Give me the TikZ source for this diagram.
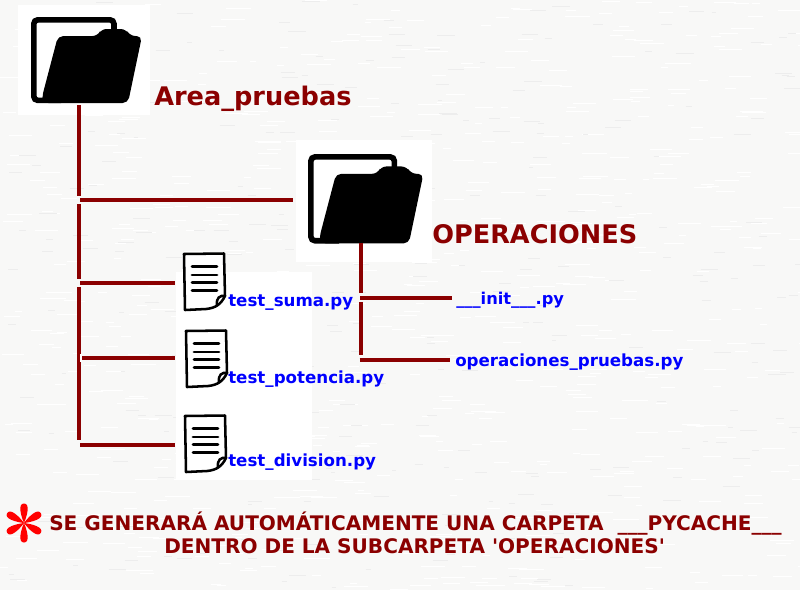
\documentclass[tikz,border=0pt]{standalone}
\usepackage{fontspec}
\setmainfont{DejaVu Sans}[Ligatures=TeXOff]
\definecolor{dred}{HTML}{8B0000}
\definecolor{paper}{HTML}{F8F8F7}
\tikzset{
  x=0.75pt,y=-0.75pt,
  branch/.style={draw=dred,line width=3pt},
  notch/.style={draw=white,line width=1.5pt},
  title/.style={text=dred,font=\bfseries\fontsize{19.2}{21}\selectfont,anchor=base west,inner sep=0pt},
  file/.style={text=blue,font=\bfseries\fontsize{12.5}{14}\selectfont,anchor=base west,inner sep=0pt},
  foot/.style={text=dred,font=\bfseries\fontsize{15.05}{17}\selectfont,anchor=base west,inner sep=0pt},
  pics/folder/.style={code={
    \draw[black,line width=4.2pt,rounded corners=3pt] (83,16) -- (83,2.8) -- (2.8,2.8) -- (2.8,83.4) -- (30,83.4);
    \fill[black,rounded corners=4pt] (27,19) -- (67,19) -- (70,12) -- (95,12) -- (99,19) -- (111,19) -- (97,86) -- (12,86) -- (11,80) -- cycle;
  }},
  pics/docu/.style={code={
    \draw[black,line width=1.9pt,line join=round,fill=white] (0,0) -- (40,-0.5) -- (41,42) .. controls (37,50) and (32,54) .. (22,55) -- (1,56) -- cycle;
    \draw[black,line width=2.1pt,line cap=round] (8,12.7) -- (33,12.7) (8,21) -- (33,21) (8,28.7) -- (33,28.7) (8,36.3) -- (33,36.3);
    \draw[black,line width=1.9pt] (41,42) .. controls (36,41) and (32,44) .. (33,51);
  }}
}
\begin{document}
\begin{tikzpicture}
\useasboundingbox (0,0) rectangle (800,590);
\fill[paper] (0,0) rectangle (800,590);
\pgfmathsetseed{7}
\foreach \i in {1,...,700}{
  \pgfmathsetmacro{\px}{rnd*800}
  \pgfmathsetmacro{\py}{rnd*590}
  \pgfmathsetmacro{\pl}{6+rnd*20}
  \draw[white,line width=0.6pt] (\px,\py) -- ++(\pl,0);
}
\foreach \i in {1,...,300}{
  \pgfmathsetmacro{\px}{rnd*800}
  \pgfmathsetmacro{\py}{rnd*590}
  \pgfmathsetmacro{\pl}{4+rnd*14}
  \draw[black!7,line width=0.5pt] (\px,\py) -- ++(\pl,0);
}
\fill[white] (18,5) rectangle (150,115);
\fill[white] (296,140) rectangle (432,262);
\fill[white] (176,272) rectangle (312,480);
\pic at (31,17) {folder};
\pic[scale=1.04] at (308,154) {folder};
\pic at (184,254) {docu};
\pic at (186,331) {docu};
\pic at (185,416) {docu};
\node[title] (a) at (154,105) {Area\_pruebas};
\node[title] (o) at (432,243) {OPERACIONES};
\node[file] (f1) at (228,306) {test\_suma.py};
\node[file] (f2) at (228,383) {test\_potencia.py};
\node[file] (f3) at (228,466) {test\_division.py};
\node[file,font=\bfseries\fontsize{12.2}{14}\selectfont] (f4) at (456,304) {\_\_\_init\_\_\_.py};
\node[file] (f5) at (455,366) {operaciones\_pruebas.py};
\node[foot] (t1) at (49,530) {SE GENERARÁ AUTOMÁTICAMENTE UNA CARPETA\ \ \_\_\_PYCACHE\_\_\_};
\node[foot] (t2) at (164,553) {DENTRO DE LA SUBCARPETA 'OPERACIONES'};
\foreach \r in {0,60,...,300}
  \fill[red,rotate around={\r:(24,523)}] (24,523) .. controls (21,516) and (17.5,503.5) .. (24,503.5) .. controls (30.5,503.5) and (27,516) .. (24,523) -- cycle;
\coordinate (ta) at (79,105);
\coordinate (tb) at (79,196);
\coordinate (tc) at (79,204);
\coordinate (td) at (79,279);
\coordinate (te) at (79,287);
\coordinate (tf) at (79,440);
\draw[branch] (ta) -- (tb);
\draw[branch] (tc) -- (td);
\draw[branch] (te) -- (tf);
\draw[notch] (81,354) -- (81,362);
\draw[branch] (80,200) -- (293,200);
\draw[branch] (80,283) -- (175,283);
\draw[branch] (82,358) -- (175,358);
\draw[branch] (80,444.5) -- (175,444.5);
\draw[branch] (360.7,243) -- (360.7,292.7);
\draw[branch] (360.7,302) -- (360.7,355);
\draw[branch] (360,297.5) -- (452,297.5);
\draw[branch] (359.5,359.5) -- (449.5,359.5);
\end{tikzpicture}
\end{document}
